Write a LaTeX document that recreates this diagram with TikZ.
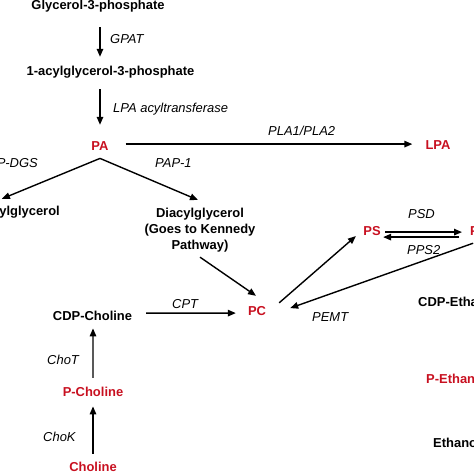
\documentclass[tikz,border=0pt]{standalone}
\usepackage{fontspec}
\setmainfont{Liberation Sans}
\usetikzlibrary{arrows.meta}
\definecolor{lipred}{RGB}{200,16,32}
\tikzset{
  met/.style={font=\fontsize{13}{16.5}\selectfont\bfseries, inner sep=0pt, text height=9.5bp, text depth=2.7bp, anchor=base},
  redmet/.style={met, text=lipred},
  dagbox/.style={font=\fontsize{13}{16.5}\selectfont\bfseries, inner sep=0pt, align=center, anchor=north},
  enz/.style={font=\fontsize{13}{16.5}\selectfont\itshape, inner sep=0pt, anchor=base west},
  rxn/.style={-{Triangle[length=8bp,width=6.5bp]}, line width=1.4bp}
}
\begin{document}
\begin{tikzpicture}[x=1bp,y=-1bp]
    \useasboundingbox (0,0) rectangle (474,474);
    \clip (0,0) rectangle (474,474);

    % metabolites
    \node[met] (g3p) at (98,10) {Glycerol-3-phosphate};
    \node[met] (acyl) at (110.5,76) {1-acylglycerol-3-phosphate};
    \node[redmet] (pa) at (100,151) {PA};
    \node[redmet] (lpa) at (438,150) {LPA};
    \node[met,anchor=base east] (dagl) at (60,216) {Diacylglycerol};
    \node[dagbox] (dag) at (200,207.5) {Diacylglycerol\\(Goes to Kennedy\\Pathway)};
    \node[redmet] (pc) at (257,315) {PC};
    \node[redmet] (ps) at (372,236) {PS};
    \node[redmet,anchor=base west] (pe) at (470,236) {PE};
    \node[met] (cdpc) at (92.5,320) {CDP-Choline};
    \node[redmet] (pcho) at (93,396) {P-Choline};
    \node[redmet] (cho) at (93,471) {Choline};
    \node[met,anchor=base west] (cdpe) at (418,306) {CDP-Ethanolamine};
    \node[redmet,anchor=base west] (peth) at (426,383) {P-Ethanolamine};
    \node[met,anchor=base west] (eth) at (433,447) {Ethanolamine};

    % enzymes
    \node[enz] (gpat) at (110,44) {GPAT};
    \node[enz] (lpaat) at (113,113) {LPA acyltransferase};
    \node[enz] (pla) at (268,136) {PLA1/PLA2};
    \node[enz,anchor=base east] (cdpdgs) at (38,168) {CDP-DGS};
    \node[enz] (pap) at (155,168) {PAP-1};
    \node[enz] (psd) at (408,219) {PSD};
    \node[enz] (pps) at (407,254) {PPS2};
    \node[enz] (cpt) at (172,308) {CPT};
    \node[enz] (pemt) at (312,321) {PEMT};
    \node[enz] (chot) at (47,364) {ChoT};
    \node[enz] (chok) at (43,441) {ChoK};

    % reactions
    \draw[rxn] ([shift={(2,14.5)}]g3p.south) -- ([shift={(-10.5,-9.5)}]acyl.north);
    \draw[rxn] ([shift={(-10.5,10.5)}]acyl.south) -- ([shift={(0,-16.5)}]pa.north);
    \draw[rxn] ([shift={(17,-3.5)}]pa.east) -- ([shift={(-13,-2.5)}]lpa.west);
    \draw[rxn] ([shift={(0,4.5)}]pa.south) -- ([shift={(-14,-7.5)}]dagl.north);
    \draw[rxn] ([shift={(0,4.5)}]pa.south) -- ([shift={(-2,-7.5)}]dag.north);
    \draw[rxn] ([shift={(0,4.3)}]dag.south) -- ([shift={(-1,-9.5)}]pc.north);
    \draw[rxn] ([shift={(13.8,-3.5)}]cdpc.east) -- ([shift={(-12,1.5)}]pc.west);
    \draw[rxn] ([shift={(13,-2.5)}]pc.north east) -- ([shift={(-7.3,3.5)}]ps.west);
    \draw[rxn] ([shift={(4.3,-0.5)}]ps.east) -- ([shift={(-8,-0.5)}]pe.west);
    \draw[rxn] ([shift={(-11,4.5)}]pe.west) -- ([shift={(2.3,4.5)}]ps.east);
    \draw[rxn] ([shift={(-5.7,4.3)}]pe.south) -- ([shift={(24,-3.5)}]pc.east);
    \draw[rxn] ([shift={(0,-8.5)}]pcho.north) -- ([shift={(0.5,5.5)}]cdpc.south);
    \draw[rxn] ([shift={(0,-7.5)}]cho.north) -- ([shift={(0,7.5)}]pcho.south);
\end{tikzpicture}
\end{document}
